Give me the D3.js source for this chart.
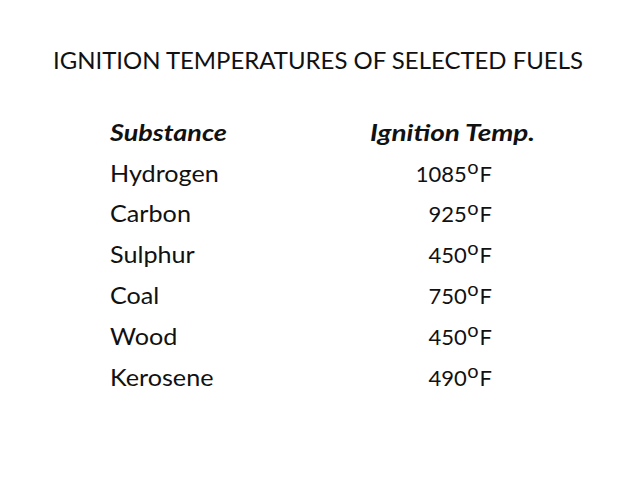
<html>
<head>
    <title>Ignition Temperatures</title>
    <script src="https://d3js.org/d3.v7.min.js"></script>
    <style>
        body { margin: 0; background: #fff; }
        text { font-family: Lato, "Open Sans", sans-serif; fill: #111; }
    </style>
</head>
<body>
    <svg id="slide" width="638" height="479"></svg>

    <script>
    // table content
    const title = "IGNITION TEMPERATURES OF SELECTED FUELS";
    const headers = ["Substance", "Ignition Temp."];
    const substances = ["Hydrogen", "Carbon", "Sulphur", "Coal", "Wood", "Kerosene"];
    const temps = [1085, 925, 450, 750, 450, 490];
    const unit = "F";

    const svg = d3.select('#slide');
    const width = 638, height = 479;

    svg.append('rect').attr('width', width).attr('height', height).attr('fill', '#fff');

    // title
    svg.append('text')
        .attr('x', 53)
        .attr('y', 69)
        .attr('font-size', 22.5)
        .attr('textLength', 530)
        .attr('lengthAdjust', 'spacingAndGlyphs')
        .text(title);

    // rows: header + one per substance, baselines
    const rows = ["__header"].concat(substances);
    const y = d3.scalePoint().domain(rows).range([140.7, 385.5]);

    const leftX = 110;
    const rightX = 492;
    const sx = 1.12; // Lato is a bit narrower than the slide font

    // header row
    svg.append('text')
        .attr('x', leftX)
        .attr('y', y("__header"))
        .attr('font-size', 22.5)
        .attr('font-weight', 'bold')
        .attr('font-style', 'italic')
        .attr('textLength', 117)
        .attr('lengthAdjust', 'spacingAndGlyphs')
        .text(headers[0]);

    svg.append('text')
        .attr('x', 370)
        .attr('y', y("__header"))
        .attr('font-size', 22.5)
        .attr('font-weight', 'bold')
        .attr('font-style', 'italic')
        .attr('textLength', 165)
        .attr('lengthAdjust', 'spacingAndGlyphs')
        .text(headers[1]);

    const data = substances.map((s, i) => ({ name: s, temp: temps[i] }));

    const row = svg.selectAll('g.row')
        .data(data)
        .enter()
        .append('g')
        .attr('class', 'row')
        .attr('transform', d => `translate(0, ${y(d.name)})`);

    row.append('text')
        .attr('transform', `translate(${leftX},0) scale(${sx},1)`)
        .attr('font-size', 22.5)
        .text(d => d.name);

    // value with raised degree mark
    const val = row.append('text')
        .attr('x', rightX)
        .attr('text-anchor', 'end')
        .attr('font-size', 22);
    val.append('tspan').text(d => d.temp);
    val.append('tspan').attr('font-size', 20).attr('dy', -7.7).attr('dx', 0.5).text('o');
    val.append('tspan').attr('dy', 7.7).attr('dx', 1).text(unit);
    </script>
</body>
</html>
